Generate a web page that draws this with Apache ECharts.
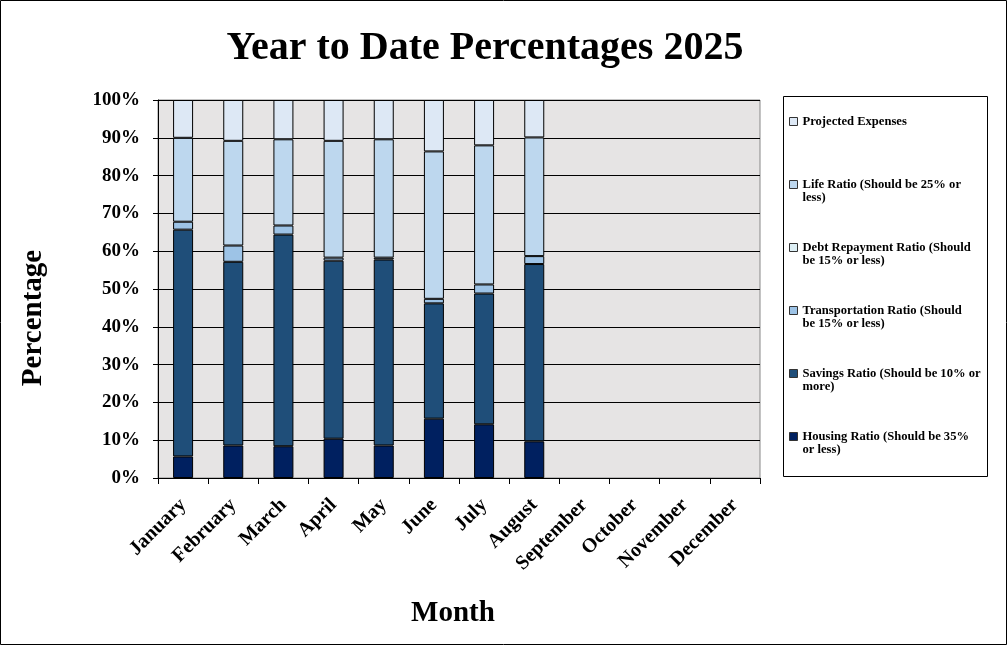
<!DOCTYPE html>
<html>
<head>
<meta charset="utf-8">
<script src="https://cdn.jsdelivr.net/npm/echarts@6/dist/echarts.min.js"></script>
<style>
html,body{margin:0;padding:0;background:#fff;}
#chart{width:1008px;height:646px;}
</style>
</head>
<body>
<div id="chart"></div>
<script>
const months = ['January','February','March','April','May','June','July','August','September','October','November','December'];
const housing = [5.7, 8.6, 8.4, 10.4, 8.6, 15.7, 14.2, 9.7, null, null, null, null];
const savings = [60.0, 48.6, 56.0, 47.1, 49.2, 30.5, 34.6, 46.9, null, null, null, null];
const transportation = [2.1, 4.3, 2.4, 0.8, 0.5, 1.2, 2.4, 2.1, null, null, null, null];
const debtRepayment = [0, 0, 0, 0, 0, 0, 0, 0, null, null, null, null];
const life = [22.2, 27.7, 22.8, 30.9, 31.3, 39.0, 36.8, 31.4, null, null, null, null];
const projected = [10.0, 10.8, 10.4, 10.8, 10.4, 13.6, 12.0, 9.9, null, null, null, null];

const seriesNames = [
  'Housing Ratio (Should be 35% or less)',
  'Savings Ratio (Should be 10% or more)',
  'Transportation Ratio (Should be 15% or less)',
  'Debt Repayment Ratio (Should be 15% or less)',
  'Life Ratio (Should be 25% or less)',
  'Projected Expenses'
];
const legendLabels = {
  'Projected Expenses': '\u00a0\nProjected Expenses\n\u00a0',
  'Life Ratio (Should be 25% or less)': '\u00a0\nLife Ratio (Should be 25% or\nless)',
  'Debt Repayment Ratio (Should be 15% or less)': '\u00a0\nDebt Repayment Ratio (Should\nbe 15% or less)',
  'Transportation Ratio (Should be 15% or less)': '\u00a0\nTransportation Ratio (Should\nbe 15% or less)',
  'Savings Ratio (Should be 10% or more)': '\u00a0\nSavings Ratio (Should be 10% or\nmore)',
  'Housing Ratio (Should be 35% or less)': '\u00a0\nHousing Ratio (Should be 35%\nor less)'
};
const colors = ['#002060', '#1F4E79', '#9DC3E6', '#DDEFF5', '#BDD7EE', '#DDE8F5'];
const values = [housing, savings, transportation, debtRepayment, life, projected];

const FONT = 'Liberation Serif';
const chart = echarts.init(document.getElementById('chart'));

const series = seriesNames.map((n, i) => ({
  name: n,
  type: 'bar',
  stack: 'total',
  data: values[i],
  barWidth: 20,
  itemStyle: { color: colors[i], borderColor: '#000', borderWidth: i === 3 ? 0 : 1 },
  emphasis: { disabled: true }
}));

const legendOrder = seriesNames.slice().reverse();

chart.setOption({
  animation: false,
  backgroundColor: '#fff',
  title: {
    text: 'Year to Date Percentages 2025',
    left: 480, top: 24, textAlign: 'center',
    textStyle: { fontFamily: FONT, fontWeight: 'bold', fontSize: 40, color: '#000' }
  },
  grid: { left: 158, right: 248, top: 100, bottom: 168, show: true, backgroundColor: '#E6E4E4', borderColor: '#888', borderWidth: 1 },
  legend: {
    orient: 'vertical',
    left: 784, top: 97,
    itemWidth: 8, itemHeight: 8, itemGap: 24,
    icon: 'rect',
    itemStyle: { borderColor: '#333', borderWidth: 1 },
    selectedMode: false,
    data: legendOrder,
    formatter: n => legendLabels[n],
    textStyle: { fontFamily: FONT, fontWeight: 'bold', fontSize: 12.6, lineHeight: 13, color: '#000' }
  },
  xAxis: {
    type: 'category',
    data: months,
    name: 'Month',
    nameLocation: 'middle',
    nameGap: 121,
    nameTextStyle: { fontFamily: FONT, fontWeight: 'bold', fontSize: 29, color: '#000', padding: [0, 12, 0, 0] },
    axisLine: { lineStyle: { color: '#000', width: 1 } },
    axisTick: { show: true, length: 6, alignWithLabel: false, lineStyle: { color: '#000' } },
    axisLabel: { rotate: 45, interval: 0, margin: 24, fontFamily: FONT, fontWeight: 'bold', fontSize: 20, color: '#000' }
  },
  yAxis: {
    type: 'value',
    min: 0, max: 100, interval: 10,
    name: 'Percentage',
    nameLocation: 'middle',
    nameRotate: 90,
    nameGap: 110,
    nameTextStyle: { fontFamily: FONT, fontWeight: 'bold', fontSize: 29, color: '#000', padding: [0, 58, 0, 0] },
    axisLine: { show: true, lineStyle: { color: '#000', width: 1 } },
    axisTick: { show: true, length: 5, lineStyle: { color: '#000' } },
    axisLabel: { formatter: '{value}%', margin: 18, fontFamily: FONT, fontWeight: 'bold', fontSize: 19, color: '#000' },
    splitLine: { show: true, lineStyle: { color: '#000', width: 1 } }
  },
  graphic: [
    { type: 'rect', shape: { x: 0.5, y: 0.5, width: 1006, height: 644 }, style: { fill: 'none', stroke: '#000', lineWidth: 1 }, silent: true, z: -1 },
    { type: 'rect', shape: { x: 783.5, y: 96.5, width: 204, height: 380 }, style: { fill: '#fff', stroke: '#000', lineWidth: 1 }, silent: true, z: -1 }
  ],
  series: series
});
</script>
</body>
</html>
